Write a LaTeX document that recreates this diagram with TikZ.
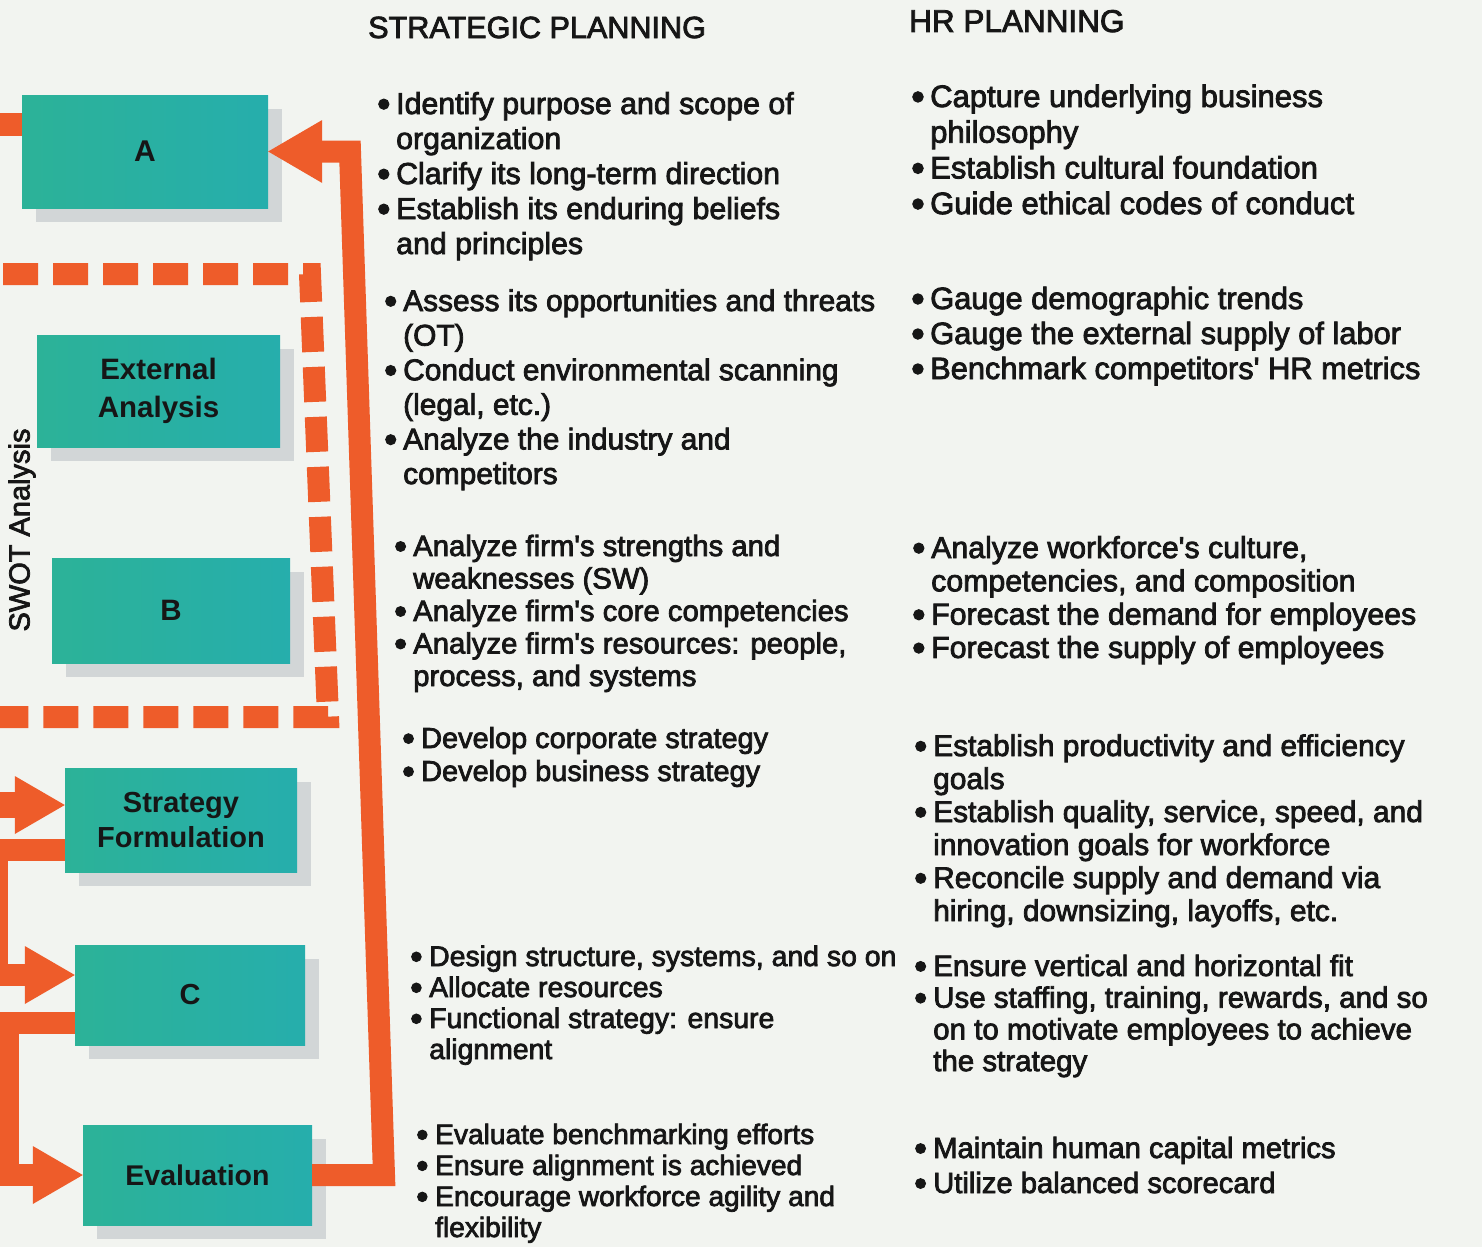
\documentclass[tikz,border=0pt]{standalone}
\usepackage{fontspec}
\setmainfont{Liberation Sans}
\newfontfamily\heavy{Liberation Sans}[FakeBold=2.6]
\usetikzlibrary{arrows.meta,shadows}
\definecolor{org}{RGB}{238,92,42}
\definecolor{boxL}{RGB}{44,178,152}
\definecolor{boxR}{RGB}{38,174,172}
\definecolor{shd}{RGB}{210,214,215}
\definecolor{ink}{RGB}{22,22,22}
\definecolor{bg}{RGB}{242,244,240}
\newcommand\bul{\raisebox{-0.09em}{\scalebox{1.25}{\textbullet}}}
\newcommand\blk[3]{\fontsize{#1}{#2}\selectfont\begin{tabular}[t]{@{}p{19pt}@{}l@{}}#3\end{tabular}}
\tikzset{
  box/.style={shape=rectangle, left color=boxL, right color=boxR, inner sep=0pt,
    text=ink, align=center,
    drop shadow={fill=shd, opacity=1, shadow xshift=14pt, shadow yshift=-14pt}},
  txt/.style={inner sep=0pt, text=ink, anchor=base west, font=\heavy},
  oline/.style={draw=org, line width=22pt, line join=miter},
  oarrow/.style={oline, -{Triangle[length=50pt,width=58pt,line width=0pt]}},
  fback/.style={oline, -{Triangle[length=54pt,width=63pt,line width=0pt]}},
  dashb/.style={draw=org, line width=22pt, dash pattern=on 35pt off 15pt},
}
\begin{document}
\begin{tikzpicture}[x=1pt,y=-1pt]
\useasboundingbox (0,0) rectangle (1482,1247);
\clip (0,0) rectangle (1482,1247);
\fill[bg] (0,0) rectangle (1482,1247);

% dashed SWOT bracket
\coordinate (d1) at (3,274);
\coordinate (d2) at (310,274);
\coordinate (d3) at (328,717);
\coordinate (d4) at (-5,717);
\draw[dashb] (d1) -- (d2) -- (d3) -- (d4);

% boxes
\node[box, minimum width=246pt, minimum height=113pt, font=\fontsize{30}{36}\selectfont\bfseries] (A) at (145,151.5) {A};
\node[box, minimum width=243pt, minimum height=112pt, font=\fontsize{29.5}{38}\selectfont\bfseries] (ext) at (158.5,391) {External\\Analysis};
\node[box, minimum width=238pt, minimum height=105pt, font=\fontsize{29.5}{36}\selectfont\bfseries] (B) at (171,610.5) {B};
\node[box, minimum width=232pt, minimum height=104pt, font=\fontsize{29}{35}\selectfont\bfseries] (sf) at (181,820) {Strategy\\Formulation};
\node[box, minimum width=230pt, minimum height=100pt, font=\fontsize{29}{35}\selectfont\bfseries] (C) at (190,995) {C};
\node[box, minimum width=229pt, minimum height=100pt, font=\fontsize{28.5}{34}\selectfont\bfseries] (ev) at (197.5,1175) {Evaluation};

\node[inner sep=0pt, text=ink, rotate=90, font=\heavy\fontsize{29}{30}\selectfont] (swot) at (22,530) {SWOT Analysis};

% orange connectors
\coordinate (stubA) at (-2,124);
\draw[oline, line width=23pt] (stubA) -- (A.west |- stubA);

\coordinate (inSF) at (-2,805);
\draw[oarrow, line width=26pt] (inSF) -- ([yshift=15pt]sf.west);

\coordinate (v1t) at (-3,850);
\coordinate (v1b) at (-3,975);
\draw[oarrow] ([yshift=-30pt]sf.west) -- (v1t) -- (v1b) -- ([yshift=20pt]C.west);

\coordinate (v2t) at (8,1023);
\coordinate (v2b) at (8,1175);
\draw[oarrow] ([yshift=-28pt]C.west) -- (v2t) -- (v2b) -- (ev.west);

\coordinate (fb1) at (384,1175);
\coordinate (fb2) at (350,151.5);
\draw[fback] (ev.east) -- (fb1) -- (fb2) -- (A.east);

% headings
\node[txt, font=\heavy\fontsize{30.6}{34}\selectfont] (h1) at (368,38) {STRATEGIC PLANNING};
\node[txt, font=\heavy\fontsize{31.5}{34}\selectfont] (h2) at (909,32) {HR PLANNING};

% strategic planning column
\node[txt] (s1) at (377,114) {\blk{30.3}{35}{%
\bul & Identify purpose and scope of\\
 & organization\\
\bul & Clarify its long-term direction\\
\bul & Establish its enduring beliefs\\
 & and principles}};
\node[txt] (s2) at (384,311) {\blk{29.9}{34.6}{%
\bul & Assess its opportunities and threats\\
 & (OT)\\
\bul & Conduct environmental scanning\\
 & (legal, etc.)\\
\bul & Analyze the industry and\\
 & competitors}};
\node[txt] (s3) at (394,556) {\blk{29.3}{32.5}{%
\bul & Analyze firm's strengths and\\
 & weaknesses (SW)\\
\bul & Analyze firm's core competencies\\
\bul & Analyze firm's resources: people,\\
 & process, and systems}};
\node[txt] (s4) at (402,748) {\blk{28.9}{33}{%
\bul & Develop corporate strategy\\
\bul & Develop business strategy}};
\node[txt] (s5) at (410,966) {\blk{28.4}{31}{%
\bul & Design structure, systems, and so on\\
\bul & Allocate resources\\
\bul & Functional strategy: ensure\\
 & alignment}};
\node[txt] (s6) at (416,1144) {\blk{28.1}{31}{%
\bul & Evaluate benchmarking efforts\\
\bul & Ensure alignment is achieved\\
\bul & Encourage workforce agility and\\
 & flexibility}};

% HR planning column
\node[txt] (r1) at (911,107) {\blk{31}{35.7}{%
\bul & Capture underlying business\\
 & philosophy\\
\bul & Establish cultural foundation\\
\bul & Guide ethical codes of conduct}};
\node[txt] (r2) at (911,309) {\blk{30.8}{35}{%
\bul & Gauge demographic trends\\
\bul & Gauge the external supply of labor\\
\bul & Benchmark competitors' HR metrics}};
\node[txt] (r3) at (912,558) {\blk{30.3}{33.3}{%
\bul & Analyze workforce's culture,\\
 & competencies, and composition\\
\bul & Forecast the demand for employees\\
\bul & Forecast the supply of employees}};
\node[txt] (r4) at (914,756) {\blk{29.9}{33}{%
\bul & Establish productivity and efficiency\\
 & goals\\
\bul & Establish quality, service, speed, and\\
 & innovation goals for workforce\\
\bul & Reconcile supply and demand via\\
 & hiring, downsizing, layoffs, etc.}};
\node[txt] (r5) at (914,976) {\blk{29.5}{31.7}{%
\bul & Ensure vertical and horizontal fit\\
\bul & Use staffing, training, rewards, and so\\
 & on to motivate employees to achieve\\
 & the strategy}};
\node[txt] (r6) at (914,1158) {\blk{29.2}{35}{%
\bul & Maintain human capital metrics\\
\bul & Utilize balanced scorecard}};
\end{tikzpicture}
\end{document}
